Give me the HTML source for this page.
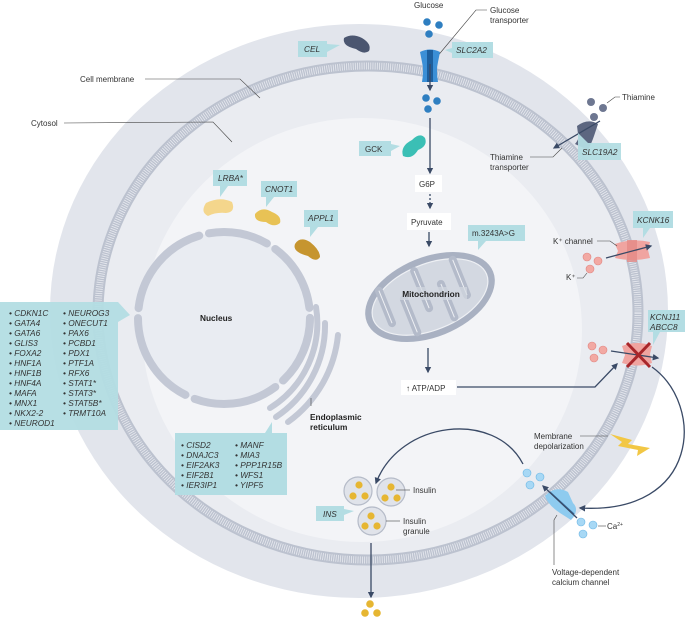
<!DOCTYPE html>
<html><head><meta charset="utf-8"><style>
html,body{margin:0;padding:0;background:#fff;}
svg{display:block;font-family:"Liberation Sans",sans-serif;}
.l{font-size:8px;fill:#333;}
.g{font-size:8.3px;fill:#333;font-style:italic;}
.b{font-size:8.3px;fill:#222;font-weight:bold;}
.box{fill:#b3dde3;}
.ln{stroke:#444;stroke-width:0.6;fill:none;}
.ar{stroke:#3a4a66;stroke-width:1.3;fill:none;}
</style></head><body>
<svg width="685" height="619" viewBox="0 0 685 619" xmlns="http://www.w3.org/2000/svg">
<defs>
<marker id="a" viewBox="0 0 10 10" refX="8" refY="5" markerWidth="5" markerHeight="5" orient="auto"><path d="M0,0 L10,5 L0,10 z" fill="#3a4a66"/></marker>
</defs>
<ellipse cx="359" cy="311" rx="309" ry="287" fill="#e2e5ec"/>
<ellipse cx="368" cy="313" rx="270" ry="247" fill="#eaecf1" stroke="#bcc2cf" stroke-width="11"/>
<ellipse cx="368" cy="313" rx="270" ry="247" fill="none" stroke="#e8eaf0" stroke-width="7" stroke-dasharray="0.8 1.4"/>
<ellipse cx="362" cy="330" rx="220" ry="212" fill="#f3f4f7"/>

<text class="l" x="80" y="82">Cell membrane</text>
<path class="ln" d="M145,79 L240,79 L260,98"/>
<text class="l" x="31" y="126">Cytosol</text>
<path class="ln" d="M64,123 L213,122 L232,142"/>

<circle cx="224" cy="318" r="86" fill="#e9ecf2"/>
<circle cx="224" cy="318" r="86" fill="none" stroke="#c3c8d5" stroke-width="8" stroke-linecap="round" stroke-dasharray="70 10 85 10 95 10 100 10 60 10"/>
<text class="b" x="200" y="321">Nucleus</text>
<path d="M316,307 A100,100 0 0 1 270,408" fill="none" stroke="#c3c8d5" stroke-width="6" stroke-linecap="round"/>
<path d="M325,323 A110,110 0 0 1 276,417" fill="none" stroke="#c3c8d5" stroke-width="6" stroke-linecap="round"/>
<path d="M338,335 A122,122 0 0 1 288,422" fill="none" stroke="#c3c8d5" stroke-width="6" stroke-linecap="round"/>
<path class="ln" d="M311,398 L311,406"/>
<text class="b" x="310" y="420">Endoplasmic</text>
<text class="b" x="310" y="430">reticulum</text>

<path class="box" d="M0,302 L118,302 L130,315 L118,322 L118,430 L0,430 z" opacity="0.95"/>
<g class="g">
<text x="9" y="316">• CDKN1C</text><text x="9" y="326">• GATA4</text><text x="9" y="336">• GATA6</text><text x="9" y="346">• GLIS3</text><text x="9" y="356">• FOXA2</text><text x="9" y="366">• HNF1A</text><text x="9" y="376">• HNF1B</text><text x="9" y="386">• HNF4A</text><text x="9" y="396">• MAFA</text><text x="9" y="406">• MNX1</text><text x="9" y="416">• NKX2-2</text><text x="9" y="426">• NEUROD1</text>
<text x="63" y="316">• NEUROG3</text><text x="63" y="326">• ONECUT1</text><text x="63" y="336">• PAX6</text><text x="63" y="346">• PCBD1</text><text x="63" y="356">• PDX1</text><text x="63" y="366">• PTF1A</text><text x="63" y="376">• RFX6</text><text x="63" y="386">• STAT1*</text><text x="63" y="396">• STAT3*</text><text x="63" y="406">• STAT5B*</text><text x="63" y="416">• TRMT10A</text>
</g>
<path class="box" d="M175,433 L265,433 L272,422 L272,433 L287,433 L287,495 L175,495 z"/>
<g class="g">
<text x="181" y="448">• CISD2</text><text x="181" y="458">• DNAJC3</text><text x="181" y="468">• EIF2AK3</text><text x="181" y="478">• EIF2B1</text><text x="181" y="488">• IER3IP1</text>
<text x="235" y="448">• MANF</text><text x="235" y="458">• MIA3</text><text x="235" y="468">• PPP1R15B</text><text x="235" y="478">• WFS1</text><text x="235" y="488">• YIPF5</text>
</g>

<path class="box" d="M213,170 L247,170 L247,186 L228,186 L220,197 L220,186 L213,186 z"/>
<text class="g" x="218" y="181">LRBA*</text>
<path d="M206,203 Q220,196 232,202 Q236,212 226,213 Q216,212 208,216 Q200,212 206,203 z" fill="#f4d68c"/>
<path class="box" d="M261,181 L297,181 L297,197 L274,197 L266,207 L266,197 L261,197 z"/>
<text class="g" x="265" y="192">CNOT1</text>
<path d="M255,214 Q262,206 272,212 Q282,216 280,223 Q274,228 266,222 Q254,222 255,214 z" fill="#e8c255"/>
<path class="box" d="M304,210 L338,210 L338,227 L318,227 L310,237 L310,227 L304,227 z"/>
<text class="g" x="308" y="221">APPL1</text>
<path d="M295,244 Q300,236 310,242 Q320,250 320,257 Q316,263 308,256 Q292,252 295,244 z" fill="#c6952f"/>

<text class="l" x="414" y="8">Glucose</text>
<circle cx="427" cy="22" r="3.8" fill="#2f7fc1"/><circle cx="439" cy="25" r="3.8" fill="#2f7fc1"/><circle cx="429" cy="34" r="3.8" fill="#2f7fc1"/>
<text class="l" x="490" y="13">Glucose</text><text class="l" x="490" y="23">transporter</text>
<path class="ln" d="M436,58 L476,10 L487,10"/>
<path d="M420,52 Q430,47 440,52 L438,62 Q436,70 438,82 L422,82 Q424,70 422,62 z" fill="#3b8fd6"/>
<rect x="427" y="50" width="6" height="32" fill="#1d5f9e"/>
<path class="box" d="M452,42 L493,42 L493,58 L452,58 L452,53 L445,50 L452,48 z"/>
<text class="g" x="456" y="53">SLC2A2</text>
<line class="ar" x1="430" y1="64" x2="430" y2="90" marker-end="url(#a)"/>
<circle cx="426" cy="98" r="3.8" fill="#2f7fc1"/><circle cx="437" cy="101" r="3.8" fill="#2f7fc1"/><circle cx="428" cy="109" r="3.8" fill="#2f7fc1"/>
<line class="ar" x1="430" y1="118" x2="430" y2="173" marker-end="url(#a)"/>
<path class="box" d="M298,41 L327,41 L327,44 L340,45 L327,52 L327,57 L298,57 z"/>
<text class="g" x="304" y="52">CEL</text>
<path d="M344,38 Q352,33 362,38 Q372,44 369,51 Q364,55 356,49 Q342,46 344,38 z" fill="#4b5670"/>
<path class="box" d="M359,141 L391,141 L391,144 L400,146 L391,151 L391,156 L359,156 z"/>
<text class="l" x="365" y="152">GCK</text>
<path d="M403,156 Q400,146 412,140 Q420,132 425,138 Q428,146 418,150 Q412,160 403,156 z" fill="#3bbfb5"/>

<rect x="415" y="175" width="27" height="17" fill="#fff"/>
<text class="l" x="419" y="187">G6P</text>
<line class="ar" x1="430" y1="194" x2="430" y2="208" stroke-dasharray="2 2" marker-end="url(#a)"/>
<rect x="407" y="213" width="44" height="17" fill="#fff"/>
<text class="l" x="411" y="225">Pyruvate</text>
<line class="ar" x1="429" y1="232" x2="429" y2="246" marker-end="url(#a)"/>
<path class="box" d="M468,225 L525,225 L525,241 L486,241 L478,250 L478,241 L468,241 z"/>
<text class="l" x="472" y="236">m.3243A&gt;G</text>

<g transform="translate(430,297) rotate(-22)">
<ellipse rx="68" ry="40" fill="#a9b1c2"/>
<ellipse rx="61" ry="33" fill="#d3d8e1" stroke="#eef0f4" stroke-width="1.2"/>
<path d="M-45,-25 L-45,10 M-25,28 L-25,-8 M-5,-30 L-5,10 M15,28 L15,-8 M35,-26 L35,12" stroke="#b4bbca" stroke-width="8" stroke-linecap="round" fill="none"/>
<path d="M-45,-25 L-45,10 M-25,28 L-25,-8 M-5,-30 L-5,10 M15,28 L15,-8 M35,-26 L35,12" stroke="#eef0f4" stroke-width="1" fill="none"/>
</g>
<rect x="395" y="287" width="72" height="13" fill="#d3d8e1" opacity="0.7"/>
<text class="b" x="431" y="297" text-anchor="middle">Mitochondrion</text>
<line class="ar" x1="428" y1="348" x2="428" y2="372" marker-end="url(#a)"/>
<rect x="401" y="380" width="55" height="15" fill="#fff"/>
<text class="l" x="406" y="391">↑ ATP/ADP</text>
<path class="ar" d="M457,387 L595,387 L617,364" marker-end="url(#a)"/>

<circle cx="591" cy="102" r="4" fill="#6e7791"/><circle cx="603" cy="108" r="4" fill="#6e7791"/><circle cx="594" cy="117" r="4" fill="#6e7791"/>
<path class="ln" d="M607,103 L615,97 L620,97"/>
<text class="l" x="622" y="100">Thiamine</text>
<path d="M577,126 Q588,118 598,124 L594,136 Q592,142 588,150 L575,144 Q580,138 578,134 z" fill="#5c6680"/>
<line class="ar" x1="600" y1="121" x2="554" y2="148" marker-end="url(#a)"/>
<text class="l" x="490" y="160">Thiamine</text><text class="l" x="490" y="170">transporter</text>
<path class="ln" d="M530,157 L553,157 L562,148"/>
<path class="box" d="M578,143 L578,133 L588,143 L621,143 L621,160 L578,160 z" opacity="0.95"/>
<text class="g" x="582" y="155">SLC19A2</text>

<path class="box" d="M633,211 L673,211 L673,228 L650,228 L643,238 L643,228 L633,228 z"/>
<text class="g" x="637" y="223">KCNK16</text>
<path d="M615,244 Q632,238 650,242 L648,250 L650,258 Q632,262 615,258 L618,251 z" fill="#f0a4a0"/>
<rect x="627" y="240" width="10" height="22" fill="#e58a86" opacity="0.8"/>
<text class="l" x="553" y="244">K⁺ channel</text>
<path class="ln" d="M597,241 L610,241 L617,246"/>
<circle cx="587" cy="257" r="4" fill="#f2a9a3" stroke="#e08480" stroke-width="0.6"/><circle cx="598" cy="261" r="4" fill="#f2a9a3" stroke="#e08480" stroke-width="0.6"/><circle cx="590" cy="269" r="4" fill="#f2a9a3" stroke="#e08480" stroke-width="0.6"/>
<line class="ar" x1="606" y1="258" x2="651" y2="246" marker-end="url(#a)"/>
<text class="l" x="566" y="280">K⁺</text>
<path class="ln" d="M577,278 L583,278 L587,273"/>

<path class="box" d="M648,310 L685,310 L685,332 L660,332 L653,345 L653,332 L648,332 z"/>
<text class="g" x="650" y="320">KCNJ11</text><text class="g" x="650" y="330">ABCC8</text>
<path d="M622,346 Q638,340 652,346 L650,354 L652,363 Q638,368 622,363 L625,355 z" fill="#f0a4a0"/>
<circle cx="592" cy="346" r="4" fill="#f2a9a3" stroke="#e08480" stroke-width="0.6"/><circle cx="603" cy="350" r="4" fill="#f2a9a3" stroke="#e08480" stroke-width="0.6"/><circle cx="594" cy="358" r="4" fill="#f2a9a3" stroke="#e08480" stroke-width="0.6"/>
<line class="ar" x1="611" y1="351" x2="658" y2="358" marker-end="url(#a)"/>
<path d="M627,343 L650,367 M650,343 L627,367" stroke="#a8262a" stroke-width="3"/>
<path class="ar" d="M652,367 C705,405 700,515 580,508" marker-end="url(#a)"/>

<text class="l" x="534" y="439">Membrane</text><text class="l" x="534" y="449">depolarization</text>
<path class="ln" d="M580,436 L608,436"/>
<path d="M610,434 L632,440 L628,444 L650,448 L637,456 L638,450 L618,446 L622,442 z" fill="#f2c744"/>

<path d="M545,496 Q555,485 568,492 L573,503 Q580,510 571,520 L560,513 Q548,505 545,496 z" fill="#8ecbef"/>
<line x1="550" y1="492" x2="574" y2="514" stroke="#3a6e9e" stroke-width="1.2"/>
<line class="ar" x1="577" y1="518" x2="543" y2="486" marker-end="url(#a)"/>
<circle cx="527" cy="473" r="4" fill="#a7d8f5" stroke="#6bb6e4" stroke-width="0.6"/><circle cx="540" cy="477" r="4" fill="#a7d8f5" stroke="#6bb6e4" stroke-width="0.6"/><circle cx="530" cy="485" r="4" fill="#a7d8f5" stroke="#6bb6e4" stroke-width="0.6"/>
<circle cx="581" cy="522" r="4" fill="#a7d8f5" stroke="#6bb6e4" stroke-width="0.6"/><circle cx="593" cy="525" r="4" fill="#a7d8f5" stroke="#6bb6e4" stroke-width="0.6"/><circle cx="583" cy="534" r="4" fill="#a7d8f5" stroke="#6bb6e4" stroke-width="0.6"/>
<path class="ln" d="M598,526 L606,526"/>
<text class="l" x="607" y="529">Ca<tspan font-size="5" dy="-3">2+</tspan></text>
<path class="ln" d="M557,515 L554,520 L554,565"/>
<text class="l" x="552" y="575">Voltage-dependent</text><text class="l" x="552" y="585">calcium channel</text>
<path class="ar" d="M523,464 C495,410 400,420 376,483" marker-end="url(#a)"/>

<g fill="#e0e3ea" stroke="#b5bbc8" stroke-width="1.2">
<circle cx="358" cy="491" r="14"/><circle cx="391" cy="492" r="14"/><circle cx="372" cy="521" r="14"/>
</g>
<g fill="#e6b632">
<circle cx="359" cy="485" r="3.6"/><circle cx="353" cy="496" r="3.6"/><circle cx="365" cy="496" r="3.6"/>
<circle cx="391" cy="487" r="3.6"/><circle cx="385" cy="498" r="3.6"/><circle cx="397" cy="498" r="3.6"/>
<circle cx="371" cy="516" r="3.6"/><circle cx="365" cy="526" r="3.6"/><circle cx="377" cy="526" r="3.6"/>
</g>
<path class="ln" d="M396,490 L410,490"/>
<text class="l" x="413" y="493">Insulin</text>
<path class="ln" d="M386,521 L400,521"/>
<text class="l" x="403" y="524">Insulin</text><text class="l" x="403" y="534">granule</text>
<path class="box" d="M316,506 L344,506 L344,509 L354,511 L344,515 L344,521 L316,521 z"/>
<text class="g" x="323" y="517">INS</text>
<line class="ar" x1="371" y1="543" x2="371" y2="597" marker-end="url(#a)"/>
<circle cx="370" cy="604" r="3.8" fill="#e6b632"/><circle cx="365" cy="613" r="3.8" fill="#e6b632"/><circle cx="377" cy="613" r="3.8" fill="#e6b632"/>
</svg>
</body></html>
